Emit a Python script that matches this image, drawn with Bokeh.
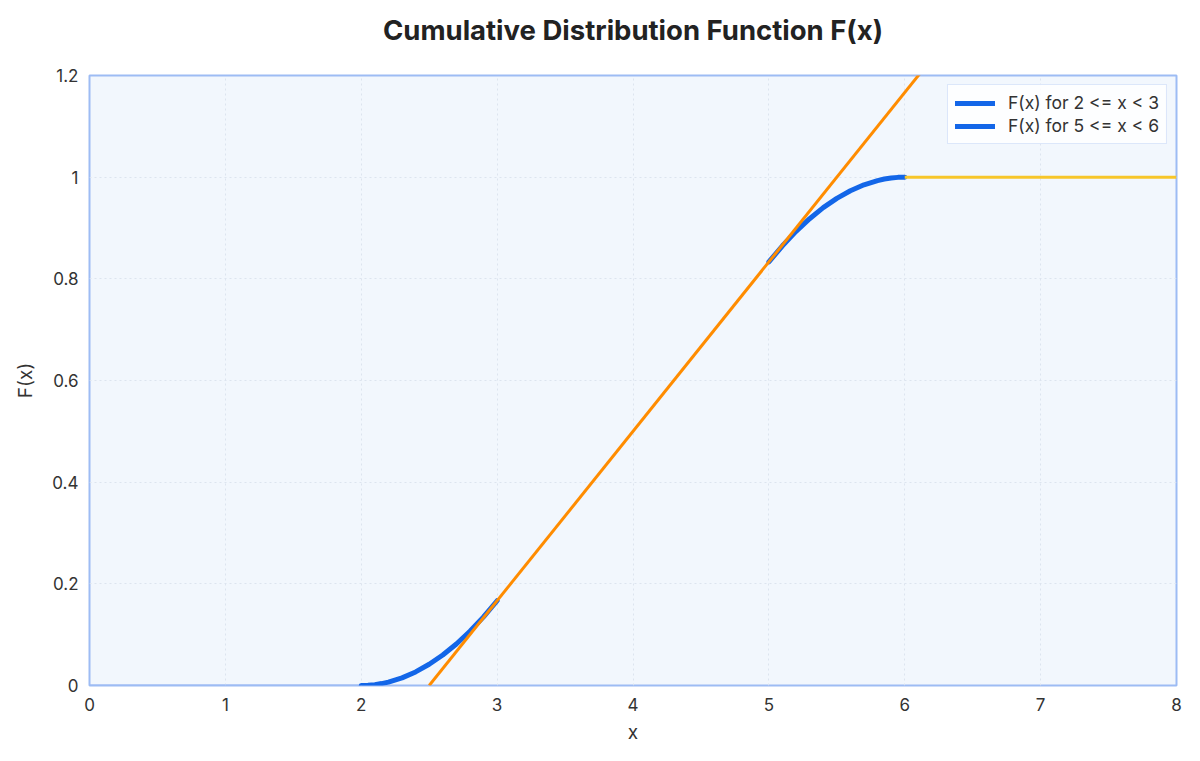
from bokeh.plotting import figure
from bokeh.models import Range1d, FixedTicker, Legend, LegendItem, Title
from bokeh.embed import file_html
from bokeh.resources import INLINE

# Data
x_tail_lo = [0.0, 2.0]
y_tail_lo = [0.0, 0.0]

seg1_x = [2.0, 2.05, 2.1, 2.15, 2.2, 2.3, 2.4, 2.5, 2.6, 2.7, 2.8, 2.9, 3.0]
seg1_y = [0.0, 0.0004, 0.0017, 0.0038, 0.0067, 0.015, 0.0267, 0.0417, 0.06, 0.0817, 0.1067, 0.135, 0.1667]

seg2_x = [5.0, 5.1, 5.2, 5.3, 5.4, 5.5, 5.6, 5.7, 5.8, 5.85, 5.9, 5.95, 6.0]
seg2_y = [0.8333, 0.865, 0.8933, 0.9183, 0.94, 0.9583, 0.9733, 0.985, 0.9933, 0.9963, 0.9983, 0.9996, 1.0]

line_x = [2.5, 6.5]
line_y = [0.0, 1.3333]

top_x = [6.0, 8.0]
top_y = [1.0, 1.0]

x_ticks = [0, 1, 2, 3, 4, 5, 6, 7, 8]
y_ticks = [0, 0.2, 0.4, 0.6, 0.8, 1.0, 1.2]
y_tick_labels = ["0", "0.2", "0.4", "0.6", "0.8", "1", "1.2"]

labels = ["F(x) for 2 <= x < 3", "F(x) for 5 <= x < 6"]
title_text = "Cumulative Distribution Function F(x)"

FONT = "Inter"
BLUE = "#1366e8"
ORANGE = "#ff8c00"
YELLOW = "#f7c62a"
FRAME = "#9dbcf4"

p = figure(width=1200, height=761, output_backend="svg", toolbar_location=None,
           title=None,
           x_range=Range1d(0, 8), y_range=Range1d(0, 1.2),
           min_border_left=89, min_border_right=24, min_border_top=75, min_border_bottom=76)

p.background_fill_color = "#f2f7fd"
p.border_fill_color = "white"
p.outline_line_color = FRAME
p.outline_line_width = 2

# spacer panel between frame and title, then the title itself
p.add_layout(Title(text=" ", text_font_size="10px", standoff=14), "above")
p.add_layout(Title(text=title_text, align="center", vertical_align="top", standoff=0,
                   text_font=FONT, text_font_size="27.5px", text_font_style="bold",
                   text_color="#222222"), "above")

for ax in (p.xaxis[0], p.yaxis[0]):
    ax.axis_line_color = None
    ax.major_tick_line_color = None
    ax.minor_tick_line_color = None
    ax.major_label_text_font = FONT
    ax.major_label_text_font_size = "17px"
    ax.major_label_text_color = "#333333"
    ax.axis_label_text_font = FONT
    ax.axis_label_text_font_size = "19px"
    ax.axis_label_text_font_style = "normal"
    ax.axis_label_text_color = "#333333"

p.xaxis.ticker = FixedTicker(ticks=x_ticks)
p.yaxis.ticker = FixedTicker(ticks=y_ticks)
p.yaxis.major_label_overrides = {t: s for t, s in zip(y_ticks, y_tick_labels)}
p.xaxis.axis_label = "x"
p.yaxis.axis_label = "F(x)"
p.xaxis.major_label_standoff = 6
p.yaxis.major_label_standoff = 5
p.xaxis.axis_label_standoff = 7
p.yaxis.axis_label_standoff = 12

p.xgrid.grid_line_color = "#dde4ef"
p.ygrid.grid_line_color = "#dde4ef"
p.xgrid.grid_line_dash = "2 3"
p.ygrid.grid_line_dash = "2 3"

p.line(x_tail_lo, y_tail_lo, line_color=FRAME, line_width=2)
r1 = p.line(seg1_x, seg1_y, line_color=BLUE, line_width=5, line_cap="round")
r2 = p.line(seg2_x, seg2_y, line_color=BLUE, line_width=5, line_cap="round")
p.line(line_x, line_y, line_color=ORANGE, line_width=3)
p.line(top_x, top_y, line_color=YELLOW, line_width=3)

legend = Legend(items=[LegendItem(label=labels[0], renderers=[r1]),
                       LegendItem(label=labels[1], renderers=[r2])],
                location="top_right")
legend.label_text_font = FONT
legend.label_text_font_size = "17.5px"
legend.label_text_color = "#333333"
legend.border_line_color = "#bcd0f5"
legend.border_line_width = 1.5
legend.background_fill_color = "white"
legend.background_fill_alpha = 0.85
legend.glyph_width = 40
legend.label_standoff = 13
legend.spacing = 2
legend.padding = 7
legend.margin = 9
p.add_layout(legend)

open("out.html", "w").write(file_html(p, INLINE))
